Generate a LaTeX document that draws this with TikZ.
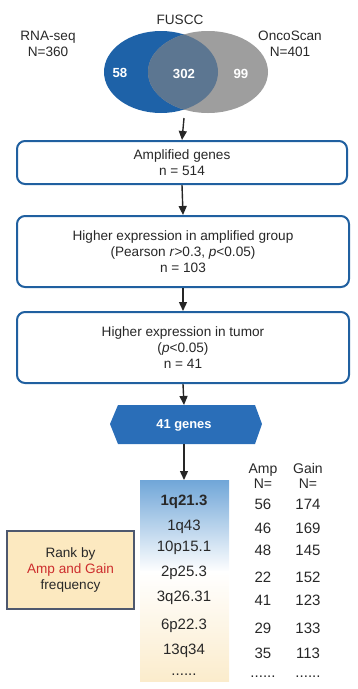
\documentclass[tikz,border=0pt]{standalone}
\usepackage{fontspec}
\setmainfont{Liberation Sans}
\usetikzlibrary{arrows.meta}
\definecolor{vblue}{RGB}{30,98,168}
\definecolor{vgrey}{RGB}{158,158,158}
\definecolor{hexblue}{RGB}{42,110,184}
\definecolor{boxblue}{RGB}{32,96,160}
\definecolor{colblue}{RGB}{112,166,216}
\definecolor{colbeige}{RGB}{251,236,204}
\definecolor{rankfill}{RGB}{252,233,192}
\definecolor{rankdraw}{RGB}{78,88,110}
\definecolor{rankred}{RGB}{205,45,45}
\definecolor{txt}{RGB}{40,40,40}
\tikzset{
  flowbox/.style={draw=boxblue, line width=2pt, rounded corners=8pt, fill=white},
  flowarrow/.style={-{Triangle[length=9pt,width=8pt]}, line width=1.4pt, draw=black!85},
  lbl/.style={font=\fontsize{13.6}{16}\selectfont, text=txt, align=center, inner sep=0pt},
  gene/.style={font=\fontsize{15}{17}\selectfont, text=txt, inner sep=0pt},
  vnum/.style={font=\bfseries\fontsize{13.2}{15}\selectfont, text=white, inner sep=0pt}
}
\begin{document}
\begin{tikzpicture}[x=1pt,y=-1pt]
\useasboundingbox (0,0) rectangle (358,689);
% Venn
\fill[vblue] (161,72) ellipse [x radius=57, y radius=41];
\fill[vgrey] (208,72) ellipse [x radius=60, y radius=41];
\begin{scope}
  \clip (161,72) ellipse [x radius=57, y radius=41];
  \fill[fill={rgb,255:red,92;green,118;blue,145}] (208,72) ellipse [x radius=60, y radius=41];
\end{scope}
\coordinate (venn) at (184,114);
\node[lbl] (fuscc) at (180,20) {FUSCC};
\node[lbl] (rna) at (48,44) {RNA-seq\\N=360};
\node[lbl] (onco) at (290,44) {OncoScan\\N=401};
\node[vnum] (n58) at (120,73) {58};
\node[vnum] (n302) at (184,74) {302};
\node[vnum] (n99) at (241,74) {99};
% boxes
\node[flowbox, minimum width=330pt, minimum height=43pt] (b1) at (182,162.5) {};
\node[lbl] at (b1) {Amplified genes\\n = 514};
\node[flowbox, minimum width=332pt, minimum height=71pt] (b2) at (183,251.5) {};
\node[lbl, align=center, font=\fontsize{13.6}{16}\selectfont] at (b2) {Higher expression in amplified group\\(Pearson \textit{r}>0.3, \textit{p}<0.05)\\n = 103};
\node[flowbox, minimum width=332pt, minimum height=71pt] (b3) at (183,347.5) {};
\node[lbl] at (b3) {Higher expression in tumor\\(\textit{p}<0.05)\\n = 41};
% hexagon
\fill[hexblue] (110,424) -- (118,405) -- (255,405) -- (262,424) -- (255,444) -- (118,444) -- cycle;
\coordinate (hex) at (184,405);
\coordinate (hexb) at (184,444);
\node[font=\bfseries\fontsize{12.9}{15}\selectfont, text=white, inner sep=0pt] (genes) at (184,425) {41 genes};
% column
\shade[top color=colblue, bottom color=white] (140,480) rectangle (229,572);
\shade[top color=white, bottom color=colbeige] (140,571.5) rectangle (229,681);
\coordinate (col) at (184,480);
% arrows
\draw[flowarrow] (184,118) -- (b1.north);
\draw[flowarrow] (b1.south) -- (b2.north);
\draw[flowarrow] (b2.south) -- (b3.north);
\draw[flowarrow] (b3.south) -- (hex);
\draw[flowarrow] (hexb) -- (col);
% genes
\node[gene, font=\bfseries\fontsize{15}{17}\selectfont] (g1) at (184,502) {1q21.3};
\node[gene] (g2) at (184,527) {1q43};
\node[gene] (g3) at (184,548) {10p15.1};
\node[gene] (g4) at (184,573) {2p25.3};
\node[gene] (g5) at (184,598) {3q26.31};
\node[gene] (g6) at (184,626) {6p22.3};
\node[gene] (g7) at (184,651) {13q34};
\node[gene] (g8) at (184,675) {......};
% Amp / Gain
\node[lbl, font=\fontsize{14}{15.5}\selectfont] (amp) at (263,476) {Amp\\N=};
\node[lbl, font=\fontsize{14}{15.5}\selectfont] (gain) at (308,476) {Gain\\N=};
\foreach \y/\a/\g in {504/56/174, 528/46/169, 550/48/145, 577/22/152, 600/41/123, 628/29/133, 653/35/113}{
  \node[gene] at (263,\y) {\a};
  \node[gene] at (308,\y) {\g};
}
\node[gene] (ad) at (263,677) {......};
\node[gene] (gd) at (308,677) {......};
% rank box
\node[draw=rankdraw, line width=1.5pt, fill=rankfill, minimum width=127pt, minimum height=78pt] (rank) at (70.5,570) {};
\node[lbl] at (rank) {Rank by\\\textcolor{rankred}{Amp and Gain}\\frequency};
\end{tikzpicture}
\end{document}
